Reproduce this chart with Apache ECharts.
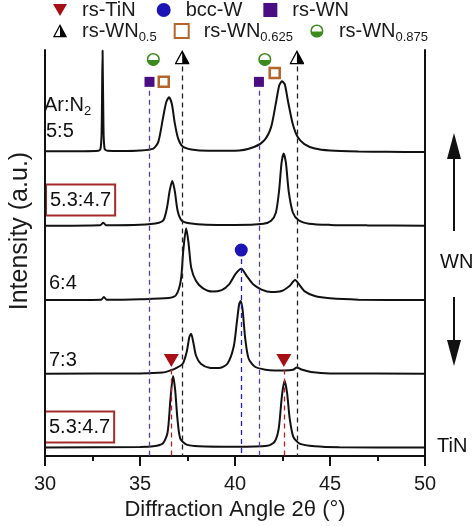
<!DOCTYPE html>
<html>
<head>
<meta charset="utf-8">
<title>XRD patterns vs Ar:N2 ratio</title>
<script src="https://cdn.jsdelivr.net/npm/echarts@6/dist/echarts.min.js"></script>
<style>
  html, body { margin: 0; padding: 0; background: #fff; }
  #chart { width: 474px; height: 526px; }
</style>
</head>
<body>
<div id="chart"></div>
<script>
  // 2theta (deg) and intensity above each pattern's own baseline (a.u.)
  const theta55 = [30, 32, 32.8, 32.92, 32.98, 33.03, 33.08, 33.14, 33.3, 34, 35, 35.7, 35.96, 36.2, 36.38, 36.53, 36.68, 36.83, 37.0,
    37.25, 37.7, 38.6, 40, 41.0, 41.55, 41.9, 42.15, 42.33, 42.47, 42.62, 42.78, 43.03, 43.3, 43.65, 44.2, 45, 46.5, 48, 50];
  const int55 = [0.8, 0.8, 1.2, 3, 20, 102, 22, 3, 1.2, 1, 1.5, 3.5, 10, 33, 50, 55, 48, 29, 14,
    5.5, 2.5, 1.2, 1.2, 5, 12, 25, 49, 67, 71, 68, 52, 29, 15, 8, 3.5, 1.5, 0.5, 0.2, 0];

  const theta5347 = [30, 32.9, 33.07, 33.22, 35, 36.0, 36.25, 36.42, 36.57, 36.7, 36.83, 36.98, 37.2, 37.6, 38.5,
    40, 41.5, 41.9, 42.15, 42.32, 42.45, 42.56, 42.68, 42.83, 43.05, 43.35, 43.9, 45, 47, 50];
  const int5347 = [0, 0.5, 3, 0.5, 1, 3, 6, 18, 36, 45, 35, 15, 5, 2.5, 1,
    0.8, 2, 5, 13, 35, 63, 72.5, 63, 34, 13, 5.5, 2, 0.8, 0.3, 0];

  const theta64 = [30, 32.95, 33.1, 33.25, 35, 36.5, 36.9, 37.15, 37.28, 37.43, 37.55, 37.7, 37.95, 38.3, 38.8, 39.3,
    39.7, 40.02, 40.33, 40.62, 40.97, 41.4, 41.9, 42.45, 42.87, 43.16, 43.4, 43.65, 44.2, 45, 46.5, 50];
  const int64 = [0, 0.3, 3, 0.3, 0.8, 2, 5, 20, 50, 72, 58, 32, 19, 12, 8.5, 10,
    16, 26, 31.5, 24, 15.5, 10.5, 8, 9, 14, 20, 15, 9, 4, 1.7, 0.4, 0];

  const theta73 = [30, 35, 36.2, 36.6, 36.85, 37.25, 37.46, 37.6, 37.69, 37.81, 37.95, 38.2, 38.65, 39.15, 39.6, 39.93,
    40.1, 40.22, 40.3, 40.4, 40.54, 40.72, 41.05, 41.6, 42.1, 42.6, 43.05, 43.26, 43.5, 44.0, 45, 50];
  const int73 = [0, 0.3, 1.2, 3.3, 5, 10, 22, 37, 40, 31, 18, 10, 6, 5.7, 10, 27,
    52, 70, 73, 64, 35, 15, 7, 4, 3.3, 3.3, 4, 6.3, 4.2, 1.8, 0.3, 0];

  const thetaTiN = [30, 35, 35.7, 36.2, 36.45, 36.6, 36.74, 36.85, 36.97, 37.12, 37.45, 38.1, 40,
    41.7, 42.08, 42.3, 42.47, 42.61, 42.74, 42.88, 43.07, 43.4, 44.2, 45.5, 50];
  const intTiN = [0, 0.5, 1.2, 4, 15, 48, 72, 58, 29, 9, 3, 1.3, 0.8,
    1.8, 5.7, 19, 52, 67, 55, 29, 10.7, 4, 1.3, 0.3, 0];

  // vertical offset of each pattern (top to bottom)
  const offsets = [305.5, 231.5, 156.8, 82.8, 8.6];

  // reference peak positions (deg) and the height of their markers
  const tinPos = [36.65, 42.57], tinLevel = [96, 96];
  const bccPos = [40.33], bccLevel = [207];
  const wnPos = [35.5, 41.26], wnLevel = [376, 376];
  const wn05Pos = [37.22, 43.26], wn05Level = [400.5, 400.5];
  const wn0625Pos = [36.25, 42.09], wn0625Level = [376, 385];
  const wn0875Pos = [35.7, 41.57], wn0875Level = [398.5, 398.5];

  const FONT = '"Liberation Sans", Arial, sans-serif';

  const svgIcon = svg => 'image://data:image/svg+xml;charset=utf-8,' + encodeURIComponent(svg);
  const halfTriangle = svgIcon("<svg xmlns='http://www.w3.org/2000/svg' width='32' height='32' viewBox='0 0 16 16'>" +
    "<polygon points='8,1.5 15,14.5 1,14.5' fill='white' stroke='black' stroke-width='1.4' stroke-linejoin='miter'/>" +
    "<polygon points='8,1.5 15,14.5 8,14.5' fill='black'/></svg>");
  const halfCircle = svgIcon("<svg xmlns='http://www.w3.org/2000/svg' width='32' height='32' viewBox='0 0 16 16'>" +
    "<circle cx='8' cy='8' r='6.6' fill='white' stroke='#3d8b1e' stroke-width='1.8'/>" +
    "<path d='M1.4,8.6 A6.6,6.6 0 0 0 14.6,8.6 Z' fill='#3d8b1e'/></svg>");

  const traces = [
    [theta55, int55], [theta5347, int5347], [theta64, int64], [theta73, int73], [thetaTiN, intTiN]
  ];

  const traceSeries = traces.map((t, k) => ({
    type: 'line',
    name: 'pattern' + k,
    data: t[0].map((x, i) => [x, offsets[k] + t[1][i]]),
    showSymbol: false,
    smooth: 0.25,
    lineStyle: { color: '#111', width: 2 },
    silent: true,
    z: 3
  }));

  function refSeries(name, pos, level, symbol, size, itemStyle, lineColor) {
    const s = {
      type: 'scatter',
      name: name,
      data: pos.map((x, i) => [x, level[i]]),
      symbol: symbol,
      symbolSize: size,
      itemStyle: Object.assign({ opacity: 1 }, itemStyle),
      z: 4
    };
    if (lineColor) {
      s.markLine = {
        silent: true,
        symbol: ['none', 'none'],
        label: { show: false },
        lineStyle: { type: [5, 4], width: 1.3, color: lineColor, opacity: 1 },
        data: pos.map((x, i) => [{ coord: [x, level[i] - 9] }, { coord: [x, 0] }])
      };
    }
    return s;
  }

  const option = {
    animation: false,
    textStyle: { fontFamily: FONT },
    grid: { left: 39, right: 49, top: 50, bottom: 68 },
    legend: [
      {
        data: ['rs-TiN', 'bcc-W', 'rs-WN'],
        left: 53, top: 0, padding: 0,
        itemWidth: 14, itemHeight: 14, itemGap: 21,
        selectedMode: false,
        textStyle: { fontSize: 20, color: '#1a1a1a', padding: [0, 0, 0, 10] }
      },
      {
        data: ['rs-WN0.5', 'rs-WN0.625', 'rs-WN0.875'],
        left: 53, top: 21, padding: 0,
        itemWidth: 14, itemHeight: 14, itemGap: 17,
        selectedMode: false,
        formatter: name => '{m|rs-WN}{s|' + name.slice(5) + '}',
        textStyle: {
          fontSize: 20, color: '#1a1a1a', padding: [0, 0, 0, 10],
          rich: {
            m: { fontSize: 20, lineHeight: 26 },
            s: { fontSize: 13, lineHeight: 10, verticalAlign: 'bottom' }
          }
        }
      }
    ],
    xAxis: {
      type: 'value',
      min: 30, max: 50, interval: 5,
      name: 'Diffraction Angle 2θ (°)',
      nameLocation: 'middle', nameGap: 42,
      nameTextStyle: { fontSize: 22, color: '#1a1a1a' },
      axisLine: { lineStyle: { color: '#111', width: 2 } },
      axisTick: { length: 10, lineStyle: { color: '#111', width: 2 } },
      minorTick: { show: true, splitNumber: 2, length: 5, lineStyle: { color: '#111', width: 2 } },
      axisLabel: { fontSize: 20, color: '#1a1a1a', margin: 18 },
      splitLine: { show: false }
    },
    yAxis: [
      {
        type: 'value', min: 0, max: 408,
        name: 'Intensity (a.u.)',
        nameLocation: 'middle', nameRotate: 90, nameGap: 12,
        nameTextStyle: { fontSize: 25, color: '#1a1a1a', padding: [0, 0, 0, 44] },
        axisLine: { show: true, lineStyle: { color: '#111', width: 2 } },
        axisTick: { show: false }, axisLabel: { show: false }, splitLine: { show: false }
      },
      {
        type: 'value', min: 0, max: 408, position: 'right',
        axisLine: { show: true, lineStyle: { color: '#111', width: 2 } },
        axisTick: { show: false }, axisLabel: { show: false }, splitLine: { show: false }
      }
    ],
    graphic: [
      {
        type: 'text', x: 44, y: 105,
        style: {
          text: '{a|Ar:N}{b|2}', fill: '#111', verticalAlign: 'middle',
          rich: {
            a: { fontSize: 20, fontFamily: FONT, lineHeight: 26 },
            b: { fontSize: 13, fontFamily: FONT, lineHeight: 10, verticalAlign: 'bottom' }
          }
        }
      },
      { type: 'text', x: 46, y: 131, style: { text: '5:5', font: '20px ' + FONT, fill: '#111', verticalAlign: 'middle' } },
      {
        type: 'text', x: 47, y: 200,
        style: {
          text: '5.3:4.7', font: '20px ' + FONT, fill: '#111', verticalAlign: 'middle',
          padding: [5, 3, 4, 3], borderColor: '#a52a2a', borderWidth: 2, backgroundColor: '#fff'
        }
      },
      { type: 'text', x: 49, y: 283, style: { text: '6:4', font: '20px ' + FONT, fill: '#111', verticalAlign: 'middle' } },
      { type: 'text', x: 49, y: 360, style: { text: '7:3', font: '20px ' + FONT, fill: '#111', verticalAlign: 'middle' } },
      {
        type: 'text', x: 46, y: 427,
        style: {
          text: '5.3:4.7', font: '20px ' + FONT, fill: '#111', verticalAlign: 'middle',
          padding: [5, 3, 4, 3], borderColor: '#a52a2a', borderWidth: 2, backgroundColor: '#fff'
        }
      },
      { type: 'text', x: 440, y: 262, style: { text: 'WN', font: '20px ' + FONT, fill: '#111', verticalAlign: 'middle' } },
      { type: 'text', x: 437, y: 446, style: { text: 'TiN', font: '20px ' + FONT, fill: '#111', verticalAlign: 'middle' } },
      // arrows next to the WN label
      { type: 'line', shape: { x1: 454, y1: 231, x2: 454, y2: 152 }, style: { stroke: '#111', lineWidth: 2 } },
      { type: 'polygon', shape: { points: [[447, 159], [461, 159], [454, 133]] }, style: { fill: '#111' } },
      { type: 'line', shape: { x1: 454, y1: 297, x2: 454, y2: 346 }, style: { stroke: '#111', lineWidth: 2 } },
      { type: 'polygon', shape: { points: [[447, 340], [461, 340], [454, 366]] }, style: { fill: '#111' } }
    ],
    series: traceSeries.concat([
      refSeries('rs-TiN', tinPos, tinLevel, 'path://M0,0 L10,0 L5,8.6 Z', [15, 13], { color: '#a50f15' }, '#b52020'),
      refSeries('bcc-W', bccPos, bccLevel, 'circle', 13, { color: '#1c14b4' }, '#2020c8'),
      refSeries('rs-WN', wnPos, wnLevel, 'rect', 10, { color: '#4b0e82' }, '#5a3d9e'),
      refSeries('rs-WN0.5', wn05Pos, wn05Level, halfTriangle, 15, { color: '#111' }, '#222'),
      refSeries('rs-WN0.625', wn0625Pos, wn0625Level, 'rect', 10,
        { color: '#fff', borderColor: '#b5652b', borderWidth: 2.5 }, null),
      refSeries('rs-WN0.875', wn0875Pos, wn0875Level, halfCircle, 14, { color: '#3d8b1e' }, null)
    ])
  };

  const chart = echarts.init(document.getElementById('chart'));
  chart.setOption(option);
  window.onresize = function () {
    chart.resize();
  };
</script>
</body>
</html>
